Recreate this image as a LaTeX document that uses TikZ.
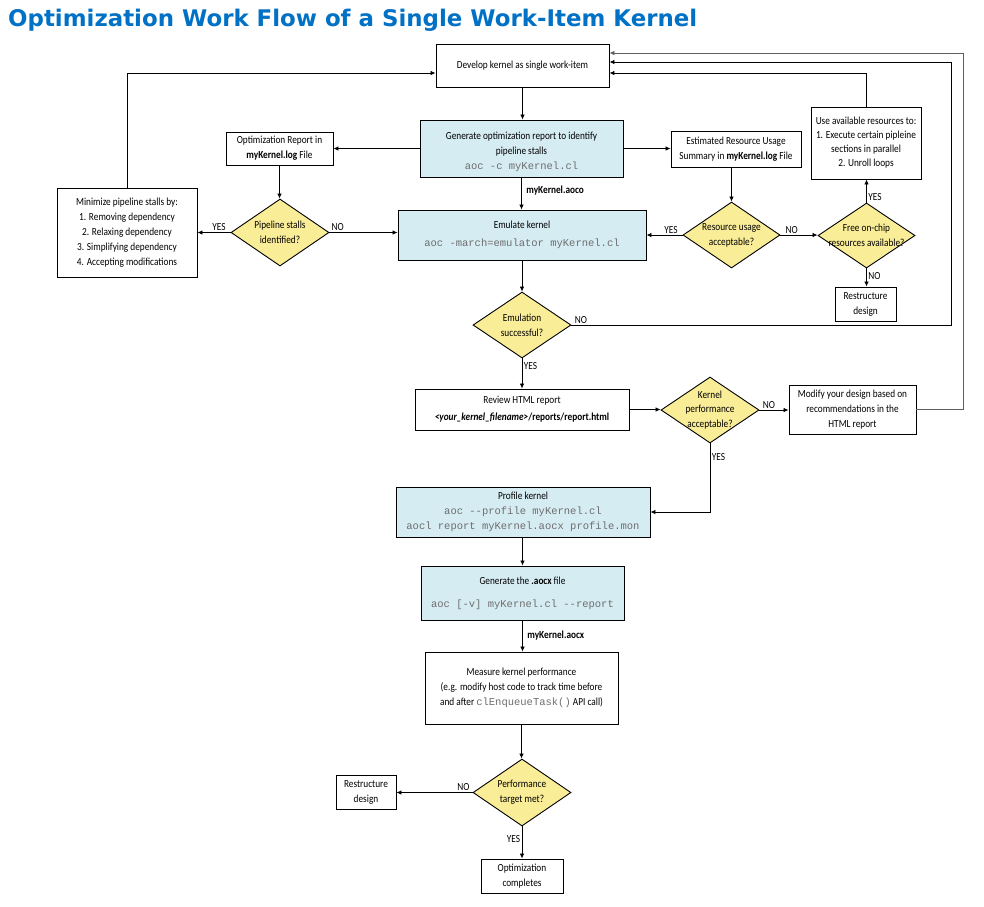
\documentclass[tikz,border=0pt]{standalone}
\usepackage{fontspec}
\usepackage{graphicx}
\setmainfont[FakeStretch=0.86]{Carlito}
\setmonofont{Liberation Mono}
\newfontfamily\titlefont{DejaVu Sans}
\usetikzlibrary{arrows.meta,shapes.geometric}
\definecolor{boxblue}{RGB}{214,236,243}
\definecolor{diayel}{RGB}{250,237,152}
\definecolor{titleblue}{RGB}{0,113,197}
\definecolor{codegray}{RGB}{110,110,110}
\definecolor{loopgray}{RGB}{95,95,95}
\newcommand{\cd}[1]{{\fontsize{10.5}{15}\ttfamily\color{codegray}#1}}
\newcommand{\bodyfont}{\fontsize{10.8}{15}\selectfont}
\tikzset{
  box/.style={draw, line width=0.9pt, inner sep=0pt, align=center, font=\bodyfont},
  bluebox/.style={box, fill=boxblue},
  dia/.style={diamond, draw, line width=0.9pt, fill=diayel, inner sep=0pt},
  conn/.style={line width=0.8pt, -{Latex[length=5pt,width=4.5pt]}},
  lbl/.style={font=\bodyfont, inner sep=1.5pt},
  dlbl/.style={font=\bodyfont, align=center, inner sep=0pt}
}
\begin{document}
\begin{tikzpicture}[x=1pt,y=-1pt]
\useasboundingbox (0,0) rectangle (984,906);
\node[anchor=base west, inner sep=0pt, text=titleblue] (title) at (8,26)
  {\resizebox{689pt}{!}{\titlefont\bfseries\fontsize{22}{26}\selectfont Optimization Work Flow of a Single Work-Item Kernel}};

\coordinate (rA) at (951,0);
\coordinate (rB) at (963,0);

\node[box, minimum width=173pt, minimum height=43pt] (dev) at (522.5,65.5) {Develop kernel as single work-item};
\node[bluebox, minimum width=203pt, minimum height=57pt,
  label={[dlbl, yshift=-3pt]center:{Generate optimization report to identify\\pipeline stalls\\\cd{aoc -c myKernel.cl}}}] (gen) at (521.5,148.5) {};
\node[box, minimum width=107pt, minimum height=33pt] (opt) at (279.5,148.5)
  {Optimization Report in\\\textbf{myKernel.log} File};
\node[box, minimum width=130pt, minimum height=36pt] (est) at (736,149)
  {Estimated Resource Usage\\Summary in \textbf{myKernel.log} File};
\node[box, minimum width=140pt, minimum height=89pt] (min) at (127,232.5)
  {Minimize pipeline stalls by:\\1. Removing dependency\\2. Relaxing dependency\\3. Simplifying dependency\\4. Accepting modifications};
\node[dia, minimum width=98pt, minimum height=67pt,
  label={[dlbl]center:{Pipeline stalls\\identified?}}] (pipe) at (280,232.5) {};
\node[bluebox, minimum width=248pt, minimum height=50pt] (emu) at (522,235)
  {Emulate kernel\\[3pt]\cd{aoc -march=emulator myKernel.cl}};
\node[dia, minimum width=97pt, minimum height=66pt,
  label={[dlbl]center:{Resource usage\\acceptable?}}] (res) at (731.5,235) {};
\node[dia, minimum width=97pt, minimum height=65pt,
  label={[dlbl]center:{Free on-chip\\resources available?}}] (free) at (866.5,235.5) {};
\node[box, minimum width=110pt, minimum height=72pt, font=\fontsize{10.8}{14}\selectfont] (use) at (866,143)
  {Use available resources to:\\1. Execute certain pipleine\\sections in parallel\\2. Unroll loops};
\node[box, minimum width=61pt, minimum height=34pt] (rs1) at (865.5,304) {Restructure\\design};
\node[dia, minimum width=98pt, minimum height=66pt,
  label={[dlbl]center:{Emulation\\successful?}}] (emuD) at (522,325) {};
\node[box, minimum width=214pt, minimum height=41pt] (rev) at (522,409.5)
  {Review HTML report\\[2pt]\textbf{\textit{<your\_kernel\_filename>}/reports/report.html}};
\node[dia, minimum width=98pt, minimum height=66pt,
  label={[dlbl, font=\fontsize{10.8}{14.5}\selectfont]center:{Kernel\\performance\\acceptable?}}] (kern) at (710,410) {};
\node[box, minimum width=127pt, minimum height=49pt] (mod) at (852.5,409.5)
  {Modify your design based on\\recommendations in the\\HTML report};
\node[bluebox, minimum width=254pt, minimum height=50pt] (prof) at (523,512)
  {Profile kernel\\\cd{aoc --profile myKernel.cl}\\\cd{aocl report myKernel.aocx profile.mon}};
\node[bluebox, minimum width=203pt, minimum height=54pt] (gaocx) at (522.5,593)
  {Generate the \textbf{.aocx} file\\[8pt]\cd{aoc [-v] myKernel.cl --report}};
\node[box, minimum width=193pt, minimum height=72pt] (meas) at (521.5,688)
  {Measure kernel performance\\(e.g. modify host code to track time before\\and after \cd{clEnqueueTask()} API call)};
\node[dia, minimum width=98pt, minimum height=67pt,
  label={[dlbl]center:{Performance\\target met?}}] (perf) at (522,792.5) {};
\node[box, minimum width=60pt, minimum height=34pt] (rs2) at (366,792) {Restructure\\design};
\node[box, minimum width=82pt, minimum height=34pt] (done) at (522,876) {Optimization\\completes};

\draw[conn] (dev.south) -- (dev.south |- gen.north);
\draw[conn] (gen.west) -- (gen.west -| opt.east);
\draw[conn] (gen.east) -- (gen.east -| est.west);
\draw[conn] (gen.south) -- node[lbl, anchor=west, pos=0.4, xshift=3pt, font=\bodyfont\bfseries]{myKernel.aoco} (gen.south |- emu.north);
\draw[conn] (opt.south) -- (opt.south |- pipe.north);
\draw[conn] (pipe.west) -- node[lbl, above, pos=0.35]{YES} (pipe.west -| min.east);
\draw[conn] (pipe.east) -- node[lbl, above, pos=0.12]{NO} (pipe.east -| emu.west);
\draw[conn] (min.north) |- ([yshift=-7.5pt]dev.west);
\draw[conn] (est.south -| res.north) -- (res.north);
\draw[conn] (res.west) -- node[lbl, above, pos=0.32]{YES} (res.west -| emu.east);
\draw[conn] (res.east) -- node[lbl, above, pos=0.3]{NO} (res.east -| free.west);
\draw[conn] (free.north) -- node[lbl, right, pos=0.25]{YES} (free.north |- use.south);
\draw[conn] (free.south) -- node[lbl, right, pos=0.4]{NO} (free.south |- rs1.north);
\draw[conn] (use.north) |- ([yshift=-7.5pt]dev.east);
\draw[conn] (emu.south) -- (emu.south |- emuD.north);
\draw[conn] (emuD.east) -- node[lbl, above, pos=0.025]{NO} (emuD.east -| rA) |- ([yshift=3.5pt]dev.east);
\draw[conn] (emuD.south) -- node[lbl, right, pos=0.26]{YES} (emuD.south |- rev.north);
\draw[conn] (rev.east) -- (rev.east -| kern.west);
\draw[conn] (kern.east) -- node[lbl, above, pos=0.33]{NO} (kern.east -| mod.west);
\draw[conn, draw=loopgray] (mod.east) -- (mod.east -| rB) |- ([yshift=12.5pt]dev.east);
\draw[conn] (kern.south) |- node[lbl, right, pos=0.1]{YES} (prof.east);
\draw[conn] (prof.south -| gaocx.north) -- (gaocx.north);
\draw[conn] (gaocx.south) -- node[lbl, anchor=west, pos=0.5, xshift=3pt, font=\bodyfont\bfseries]{myKernel.aocx} (gaocx.south |- meas.north);
\draw[conn] (meas.south) -- (meas.south |- perf.north);
\draw[conn] (perf.west) -- node[lbl, above, pos=0.12]{NO} (perf.west -| rs2.east);
\draw[conn] (perf.south) -- node[lbl, left, pos=0.4]{YES} (perf.south |- done.north);
\end{tikzpicture}
\end{document}
